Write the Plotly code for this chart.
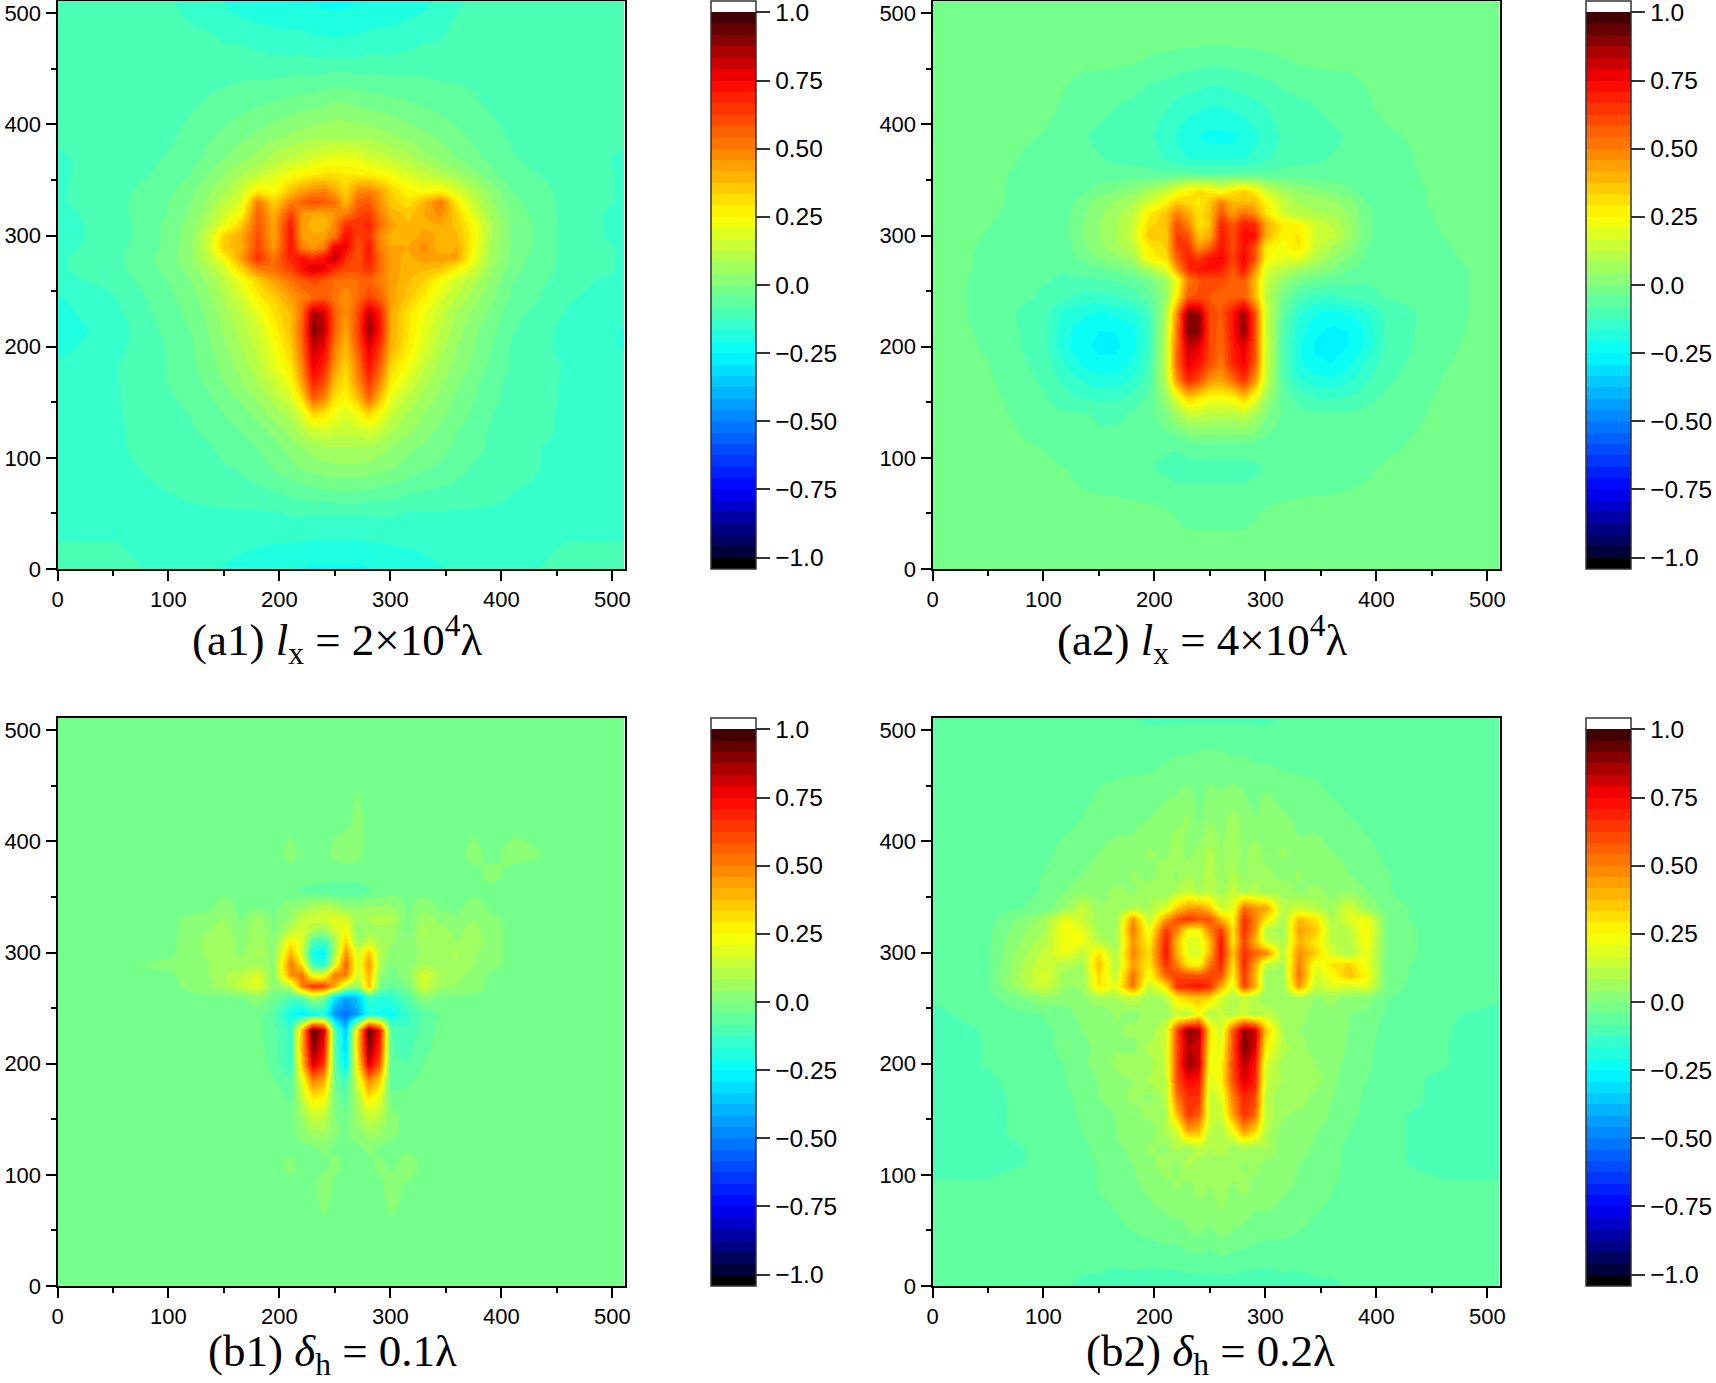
import plotly.graph_objects as go

# Non-uniform sample positions of the hand-read grids (pixel index units)
x_pos = [0,50,100,120,135,150,165,180,195,210,220,230,240,250,260,270,280,290,300,315,330,345,360,375,390,410,460,511]
y_pos = [511,470,420,390,370,355,340,330,320,310,300,290,280,270,260,245,230,215,200,185,170,155,140,125,110,90,50,0]

cbar_ticks = [-100,-75,-50,-25,0,25,50,75,100]
cbar_labels = ["\u22121.0","\u22120.75","\u22120.50","\u22120.25","0.0","0.25","0.50","0.75","1.0"]
axis_ticks = [0,100,200,300,400,500]

# values, in hundredths
a1 = [
[-11,-11,-12,-14,-15,-17,-19,-20,-20,-21,-21,-21,-22,-22,-22,-21,-21,-20,-20,-19,-18,-15,-13,-12,-12,-11,-10,-10],
[-10,-10,-11,-11,-11,-12,-12,-13,-14,-14,-14,-15,-15,-15,-15,-15,-14,-14,-14,-13,-12,-12,-11,-10,-10,-10,-9,-9],
[-12,-11,-10,-9,-8,-7,-6,-5,-4,-3,-2,-2,-1,0,0,-1,-2,-2,-3,-4,-5,-6,-7,-8,-9,-10,-11,-12],
[-12,-11,-9,-7,-5,-3,-1,1,3,5,6,7,8,8,8,8,7,6,5,3,1,-1,-3,-5,-7,-9,-11,-12],
[-13,-11,-8,-6,-3,0,3,6,10,13,15,17,20,21,21,20,17,15,13,10,6,3,0,-3,-5,-8,-11,-13],
[-13,-11,-7,-4,0,4,8,13,18,23,26,28,30,30,29,28,27,25,22,18,14,10,6,2,-3,-7,-10,-13],
[-13,-10,-5,-1,3,8,15,28,24,38,44,48,50,42,34,48,50,44,34,26,24,26,18,10,3,-4,-10,-13],
[-13,-10,-4,0,5,12,18,52,34,50,56,60,58,54,38,56,58,46,36,30,40,52,28,14,5,-3,-10,-13],
[-14,-10,-4,1,7,16,24,56,40,62,46,42,42,46,50,60,64,50,40,36,42,48,34,18,7,-2,-10,-14],
[-14,-11,-3,2,10,20,34,58,42,70,44,40,38,48,66,66,68,54,44,38,40,42,36,24,9,-1,-10,-14],
[-14,-11,-3,3,14,34,42,60,42,72,44,42,44,52,74,62,66,48,40,38,44,40,38,26,9,-1,-10,-14],
[-14,-10,-3,4,14,36,40,62,44,72,50,44,50,78,76,58,72,50,42,42,48,38,42,24,8,-1,-10,-13],
[-13,-10,-2,4,12,24,44,66,52,70,72,68,74,84,66,58,70,54,44,40,44,44,42,22,7,-2,-10,-13],
[-13,-10,-3,2,8,16,32,50,54,62,72,82,76,66,60,60,66,54,44,40,38,36,26,16,5,-3,-10,-13],
[-14,-11,-4,0,5,12,22,34,44,52,58,60,58,54,52,54,56,50,44,38,34,24,16,10,3,-4,-11,-14],
[-17,-13,-5,-2,3,9,16,27,34,44,50,54,58,52,46,54,62,56,44,36,28,18,12,6,1,-5,-12,-15],
[-18,-14,-6,-3,1,6,12,20,30,38,54,86,82,56,46,60,84,70,42,30,22,14,8,3,-1,-7,-13,-16],
[-19,-15,-7,-4,0,5,10,16,26,38,56,90,84,56,42,62,88,72,42,30,20,12,6,1,-3,-8,-14,-17],
[-18,-14,-8,-5,-1,3,8,14,22,34,54,82,76,50,38,58,78,64,40,28,18,10,4,0,-4,-9,-14,-17],
[-16,-13,-8,-5,-2,2,6,12,20,30,50,78,70,46,34,52,74,58,34,24,14,7,3,-1,-5,-9,-13,-15],
[-15,-13,-8,-6,-3,0,4,9,15,24,44,70,62,38,30,48,66,50,28,18,10,5,1,-3,-6,-10,-13,-15],
[-14,-13,-9,-7,-5,-2,1,5,10,18,32,58,50,30,26,38,56,38,20,12,7,3,-1,-4,-7,-10,-13,-14],
[-14,-13,-10,-8,-6,-4,-2,2,6,10,18,34,30,22,18,24,34,24,14,8,4,1,-2,-5,-8,-11,-13,-14],
[-14,-13,-11,-9,-7,-6,-4,-2,2,6,11,16,17,15,14,15,17,14,9,5,2,-1,-4,-6,-9,-11,-13,-14],
[-14,-13,-11,-10,-9,-7,-6,-4,-2,2,4,6,8,8,8,8,8,6,4,1,-1,-3,-5,-7,-9,-12,-13,-14],
[-14,-13,-12,-11,-10,-9,-8,-6,-4,-2,0,1,2,3,3,3,2,1,0,-2,-4,-5,-7,-9,-10,-12,-13,-14],
[-13,-13,-13,-13,-13,-13,-13,-13,-13,-12,-12,-12,-12,-12,-12,-12,-12,-12,-12,-13,-13,-13,-13,-13,-13,-13,-13,-13],
[-12,-12,-13,-14,-15,-17,-18,-19,-20,-21,-21,-22,-22,-22,-22,-22,-21,-21,-20,-19,-18,-17,-15,-14,-14,-13,-12,-12],
]

a2 = [
[-2,-2,-2,-2,-2,-2,-2,-2,-2,-2,-2,-2,-2,-2,-2,-2,-2,-2,-2,-2,-2,-2,-2,-2,-2,-2,-2,-2],
[-2,-2,-2,-2,-2,-2,-2,-2,-3,-3.5,-4,-4,-4.2,-4.3,-4.3,-4.2,-4,-4,-3.5,-3,-2,-2,-2,-2,-2,-2,-2,-2],
[-2,-2,-2,-5,-7,-7,-8,-9,-11,-12,-13,-14,-15,-16,-16,-15,-14,-13,-12,-10,-9,-8,-7,-7,-5,-2,-2,-2],
[-2,-2,-4.5,-7,-8,-9,-10,-11,-12,-14,-17,-20,-21,-22,-22,-22,-20,-18,-15,-12,-11,-10,-9,-8,-8,-5,-2,-2],
[-2,-2,-6,-7,-8,-8,-9,-10,-11,-13,-15,-17,-18,-18,-18,-18,-17,-15,-13,-11,-10,-9,-8,-8,-7,-6,-2.2,-2],
[-2,-2.5,-7,-7,-7,-7,-7,-6,-6,-7,-7,-7,-7,-7,-7,-7,-7,-7,-7,-6,-6,-7,-7,-7,-7,-6,-2.5,-2],
[-2,-3,-7,-7,-5,-2,0,3,8,14,22,28,30,28,22,30,34,28,16,8,4,2,0,-3,-6,-7,-3,-2],
[-2,-3,-7,-6,-2,2,5,8,16,26,36,32,28,36,50,38,38,38,26,14,8,7,5,2,-4,-7,-3,-2],
[-2,-3.5,-7,-5,-1,3,7,12,28,36,50,42,30,38,58,44,54,46,30,16,10,9,8,4,-3,-7,-3.5,-2],
[-2,-4,-7,-5,0,4,8,14,32,36,60,50,30,36,68,58,70,68,42,28,26,16,12,6,-3,-7,-3.8,-2],
[-2,-4.5,-7,-5,0,4,8,15,36,34,64,60,36,42,70,60,74,72,40,26,30,16,14,6,-3,-7,-4.2,-2],
[-2,-4.8,-7,-6,-1,3,7,12,28,34,62,66,46,56,72,60,72,60,28,22,30,14,8,3,-4,-7,-4.6,-2],
[-2,-5,-7,-6,-3,0,3,6,26,30,56,70,64,72,76,62,76,60,26,20,20,10,4,0,-5,-7,-5,-2],
[-2,-5,-8,-8,-7,-5,-3,0,8,18,44,66,72,72,70,58,72,48,18,12,6,3,0,-4,-6,-7,-6,-2],
[-2,-5.5,-8,-9,-9,-9,-8,-6,-2,6,22,50,58,60,60,56,58,38,14,4,-2,-4,-6,-7,-8,-7,-6,-2],
[-2,-5.5,-9,-12,-14,-14,-13,-11,-6,4,28,58,60,58,56,56,58,40,12,-2,-10,-14,-14,-12,-10,-8,-6,-2],
[-2,-5.5,-11,-18,-20,-22,-20,-18,-12,8,48,90,88,60,58,72,88,60,16,-6,-16,-21,-22,-21,-18,-11,-6,-2],
[-2,-5,-11,-20,-23,-25,-25,-22,-14,10,52,92,90,62,56,72,90,62,16,-8,-19,-24,-26,-25,-20,-11,-5.5,-2],
[-2,-4.6,-11,-20,-24,-26,-26,-22,-14,12,54,82,78,62,54,70,78,60,16,-9,-20,-26,-27,-25,-20,-11,-5,-2],
[-2,-4,-10,-17,-22,-24,-24,-20,-12,12,56,78,72,60,52,68,76,58,16,-9,-20,-24,-25,-22,-16,-10,-4.5,-2],
[-2,-3.5,-9,-14,-17,-19,-19,-16,-10,10,46,68,60,46,42,54,66,46,14,-8,-16,-19,-20,-17,-13,-9,-4,-2],
[-2,-3,-8,-11,-13,-14,-14,-11,-7,4,20,36,30,24,24,26,36,22,6,-6,-10,-13,-13,-12,-10,-7,-3.5,-2],
[-2,-2.5,-7,-8,-8,-9,-9,-8,-6,0,7,14,14,12,12,12,14,8,1,-5,-7,-8,-8,-8,-7,-7,-3,-2],
[-2,-2,-6,-7,-7,-8,-8,-8,-7,-4,-2,2,3,3,3,3,3,1,-3,-6,-7,-7,-7,-7,-7,-6,-2.5,-2],
[-2,-2,-4.5,-7,-7,-7,-8,-8,-8,-8,-8,-7,-6,-6,-6,-6,-6,-7,-8,-8,-8,-7,-7,-7,-7,-5,-2,-2],
[-2,-2,-2.5,-4,-6,-7,-7,-8,-8,-9,-10,-10,-10,-10,-10,-10,-10,-9,-8,-8,-7,-7,-7,-6,-5,-3,-2,-2],
[-2,-2,-2,-2,-2,-2,-2.2,-2.5,-3,-3.5,-4.5,-5,-5,-5,-5,-5,-5,-4.5,-3.5,-2.8,-2.5,-2.2,-2,-2,-2,-2,-2,-2],
[-2,-2,-2,-2,-2,-2,-2,-2,-2,-2,-2,-2,-2,-2,-2,-2,-2,-2,-2,-2,-2,-2,-2,-2,-2,-2,-2,-2],
]

b1 = [
[-1,-1,-1,-1,-1,-1,-1,-1,-1,-1,-1,-1,-1,-1,-1,-1,-1,-1,-1,-1,-1,-1,-1,-1,-1,-1,-1,-1],
[-1,-1,-1,-1,-1,-1,-1,-1,-1,-1,-1,-1,-1,-1,-1,-1,-1,-1,-1,-1,-1,-1,-1,-1,-1,-1,-1,-1],
[-1,-1,-1,-1,-1,-1,-1,-1,-1,-1,-1,-1,-1,-1,-1,1,-1,-1,-1,-1,-1,-1,-1,-1,-1,-1,-1,-1],
[-1,-1,-1,-1,-1,-1,-1,-1,-1,1,-1,-1,-1,1,2,1,-1,-1,-1,-1,-1,-1,-1,1,-1,1,-1,-1],
[-1,-1,-1,-1,-1,-1,-1,-1,-1,-1,-2,-2,-2,-2,-2,-2,-2,-2,-1,-1,-1,-1,-1,-1,1,-1,-1,-1],
[-1,-1,-1,-1,-1,-1,-1,-1,-2,-3,-5,-6,-7,-8,-8,-7,-5,-3,-2,-1,-1,-1,-1,-1,-1,-1,-1,-1],
[-1,-1,-1,-1,-1,2,-1,-1,-1,3,6,10,12,10,5,4,6,5,6,-1,3,-1,-1,2,-1,-1,-1,-1],
[-1,-1,-1,1,2,5,-1,7,-1,5,14,15,16,20,18,5,9,11,10,-1,8,3,1,4,1,-1,-1,-1],
[-1,-1,-1,1,4,7,1,8,-1,12,18,8,6,16,24,3,6,6,6,-1,9,6,3,6,1,-1,-1,-1],
[-1,-1,-1,2,6,8,1,8,1,26,18,-10,-14,6,34,4,14,8,5,1,8,8,4,8,1,-1,-1,-1],
[-1,-1,-1,2,5,7,3,9,2,40,16,-22,-26,8,46,16,36,10,2,1,6,7,9,5,1,-1,-1,-1],
[-1,-1,1,3,4,6,6,8,3,52,30,-14,-18,18,56,18,46,8,0,2,8,6,8,4,1,-1,-1,-1],
[-1,-1,-1,2,4,8,12,18,2,46,54,20,22,52,50,14,40,4,-2,3,18,8,5,3,-1,-1,-1,-1],
[-1,-1,-1,1,3,7,14,20,1,12,50,66,62,42,12,4,38,-2,-6,-1,16,5,4,2,-1,-1,-1,-1],
[-1,-1,-1,-1,-1,-1,-1,3,-2,-10,-8,8,0,-30,-42,-36,-14,-18,-16,-8,3,-1,-1,-1,-1,-1,-1,-1],
[-1,-1,-1,-1,-1,-1,-1,-3,-8,-22,-28,-22,-20,-46,-54,-42,-20,-22,-24,-14,-8,-4,-1,-1,-1,-1,-1,-1],
[-1,-1,-1,-1,-1,-1,-1,-3,-7,-14,38,96,80,-8,-36,34,96,72,-8,-12,-6,-3,-1,-1,-1,-1,-1,-1],
[-1,-1,-1,-1,-1,-1,-1,-2,-7,-14,40,90,74,-8,-32,36,90,68,-8,-10,-5,-3,-1,-1,-1,-1,-1,-1],
[-1,-1,-1,-1,-1,-1,-1,-2,-6,-14,34,80,64,-6,-28,30,80,58,-8,-8,-4,-2,-1,-1,-1,-1,-1,-1],
[-1,-1,-1,-1,-1,-1,-1,-1,-4,-8,20,50,42,-4,-12,18,50,34,-6,-5,-2,-1,-1,-1,-1,-1,-1,-1],
[-1,-1,-1,-1,-1,-1,-1,-1,-2,-5,12,30,26,-2,-7,10,30,20,-3,-3,-1,-1,-1,-1,-1,-1,-1,-1],
[-1,-1,-1,-1,-1,-1,-1,-1,-1,-2,6,16,14,0,-3,6,16,12,1,-1,-1,-1,-1,-1,-1,-1,-1,-1],
[-1,-1,-1,-1,-1,-1,-1,-1,-1,-1,2,8,8,1,-1,3,8,6,1,-1,-1,-1,-1,-1,-1,-1,-1,-1],
[-1,-1,-1,-1,-1,-1,-1,-1,-1,-1,-1,-1,1,-1,-1,-1,1,-1,-1,-1,-1,-1,-1,-1,-1,-1,-1,-1],
[-1,-1,-1,-1,-1,-1,-1,-1,-1,1,-1,-1,-1,1,-1,-1,-1,1,-1,2,-1,-1,-1,-1,-1,-1,-1,-1],
[-1,-1,-1,-1,-1,-1,-1,-1,-1,-1,-1,-1,2,-1,-1,-1,-1,-1,2,-1,-1,-1,-1,-1,-1,-1,-1,-1],
[-1,-1,-1,-1,-1,-1,-1,-1,-1,-1,-1,-1,-1,-1,-1,-1,-1,-1,-1,-1,-1,-1,-1,-1,-1,-1,-1,-1],
[-1,-1,-1,-1,-1,-1,-1,-1,-1,-1,-1,-1,-1,-1,-1,-1,-1,-1,-1,-1,-1,-1,-1,-1,-1,-1,-1,-1],
]

b2 = [
[-7,-7,-7,-8,-8,-8,-8,-8,-9,-9,-9,-9,-9,-9,-9,-9,-9,-9,-9,-8,-8,-8,-8,-8,-7,-7,-6,-6],
[-7,-7,-6,-6,-6,-5,-5,-5,-5,-4,-3,-3,-2,-2,-2,-3,-3,-4,-4,-5,-5,-5,-6,-6,-6,-7,-7,-7],
[-8,-7,-6,-5,-4,-3,-2,-1,0,2,3,5,-1,4,2,6,3,0,4,1,-1,-2,-3,-4,-5,-6,-7,-8],
[-8,-6,-5,-3,-2,0,2,1,5,3,8,2,6,10,4,8,3,7,2,5,1,3,0,-1,-3,-5,-7,-8],
[-8,-6,-4,-2,0,3,1,5,2,7,3,9,5,12,4,10,3,8,6,2,5,1,3,0,-2,-4,-7,-8],
[-8,-6,-4,0,3,2,6,3,8,4,10,14,8,12,6,14,8,10,5,7,3,6,2,4,0,-4,-7,-8],
[-8,-6,-3,5,14,5,4,10,8,18,35,45,46,36,16,20,55,46,44,10,16,10,6,18,5,-3,-6,-8],
[-8,-6,6,22,14,6,5,46,12,45,60,65,60,60,40,24,66,50,30,8,38,30,8,18,24,-3,-6,-8],
[-8,-5,8,25,20,7,6,52,20,65,50,25,25,50,65,30,66,48,10,6,44,36,10,12,26,-2,-6,-8],
[-8,-5,10,24,22,10,6,46,26,70,38,18,18,38,72,28,62,40,16,8,40,28,12,10,24,-2,-6,-8],
[-8,-5,14,22,12,30,8,50,30,72,40,20,16,40,72,36,66,56,50,10,48,34,16,8,22,-2,-6,-8],
[-8,-5,16,10,8,38,10,44,28,66,50,28,24,52,68,30,68,44,12,8,50,20,30,34,22,-3,-6,-8],
[-8,-5,18,6,6,32,12,54,22,56,62,60,58,62,60,26,64,40,6,6,54,16,24,38,26,-3,-6,-8],
[-8,-5,16,4,5,30,20,52,12,30,66,68,72,66,42,18,62,42,5,5,46,12,20,16,20,-3,-7,-8],
[-8,-6,4,2,3,8,8,14,6,10,28,36,38,34,16,8,14,10,4,6,8,4,5,3,2,-4,-7,-8],
[-9,-7,-4,-2,2,0,5,2,8,4,14,10,24,8,14,10,16,8,14,5,6,2,4,0,-1,-5,-8,-9],
[-10,-8,-5,-3,0,2,3,6,4,16,62,90,86,30,14,58,88,82,36,8,4,3,1,0,-2,-6,-8,-10],
[-11,-8,-5,-3,-1,1,4,2,10,14,60,84,80,26,20,60,92,80,26,10,6,2,3,-1,-3,-6,-8,-11],
[-11,-8,-6,-4,-1,2,5,8,6,14,62,88,82,22,24,62,84,72,18,6,8,4,1,-1,-3,-7,-8,-11],
[-11,-9,-6,-4,-2,0,3,4,9,12,60,74,72,18,26,60,80,70,14,8,5,6,1,-2,-4,-7,-9,-11],
[-10,-9,-7,-5,-3,0,1,6,3,10,52,66,66,14,18,50,68,62,12,4,7,2,0,-2,-5,-7,-9,-10],
[-10,-9,-7,-6,-3,-1,0,2,6,8,38,64,58,16,14,44,66,56,12,5,3,3,-1,-3,-5,-8,-9,-10],
[-10,-9,-7,-6,-4,-2,0,4,1,10,16,44,40,12,8,24,46,34,10,2,4,0,-2,-4,-6,-8,-9,-10],
[-9,-9,-8,-7,-5,-3,-1,1,5,3,10,6,14,8,12,6,10,7,9,1,2,-1,-3,-5,-6,-8,-9,-9],
[-9,-9,-8,-6,-5,-4,-2,0,3,6,3,10,5,8,4,9,3,6,2,4,0,-2,-3,-5,-7,-8,-9,-9],
[-8,-8,-7,-6,-5,-4,-3,-1,1,3,5,2,6,4,7,3,6,2,4,1,-1,-3,-4,-5,-6,-7,-8,-8],
[-7,-7,-7,-7,-6,-6,-5,-4,-3,-2,-2,0,1,-1,2,0,-1,-2,-3,-3,-4,-5,-5,-6,-6,-7,-7,-7],
[-6,-6,-7,-8,-9,-9,-10,-10,-11,-11,-11,-11,-11,-11,-11,-11,-11,-11,-11,-10,-10,-9,-9,-8,-7,-7,-6,-6],
]

W, H = 1716, 1383
BAND = 100 / 24
ZMAX = 25 * BAND

stops = [(-100,(0,0,40)),(-75,(0,0,255)),(-25,(0,255,255)),(0,(128,255,128)),
         (25,(255,255,0)),(75,(255,0,0)),(100,(50,0,0))]

def band_colour(v):
    if v < -100: return "rgb(0,0,0)"
    if v > 100: return "rgb(255,255,255)"
    for (a, ca), (b, cb) in zip(stops, stops[1:]):
        if a <= v <= b:
            t = (v - a) / (b - a)
            return "rgb(%d,%d,%d)" % tuple(round(p + (q - p) * t) for p, q in zip(ca, cb))

scale = []
for i in range(50):
    lo, hi = -ZMAX + i * BAND, -ZMAX + (i + 1) * BAND
    col = band_colour((lo + hi) / 2)
    scale += [[i / 50, col], [(i + 1) / 50, col]]

panels = [
    (a1, 57.5, 1, 711, "(a1) <i>l</i><sub>x</sub> = 2×10<sup>4</sup>λ", 337, 640),
    (a2, 932.5, 1, 1586, "(a2) <i>l</i><sub>x</sub> = 4×10<sup>4</sup>λ", 1202, 640),
    (b1, 57.5, 718, 711, "(b1) <i>δ</i><sub>h</sub> = 0.1λ", 332, 1354),
    (b2, 932.5, 718, 1586, "(b2) <i>δ</i><sub>h</sub> = 0.2λ", 1210, 1354),
]
SIZE_X, SIZE_Y = 567, 568
axisfont = dict(family="Liberation Sans", size=22, color="black")
barfont = dict(family="Liberation Sans", size=24.5, color="black")

fig = go.Figure()
layout = dict(width=W, height=H, autosize=False, paper_bgcolor="white", plot_bgcolor="white",
              margin=dict(l=0, r=0, t=0, b=0, autoexpand=False), showlegend=False, annotations=[])
for i, (z, left, top, cb_left, title, tx, ty) in enumerate(panels, start=1):
    assert len(z) == len(y_pos) and all(len(r) == len(x_pos) for r in z)
    fig.add_trace(go.Heatmap(
        x=x_pos, y=y_pos, z=z, xaxis=f"x{i}", yaxis=f"y{i}", zsmooth="best",
        zmin=-ZMAX, zmax=ZMAX, colorscale=scale, hoverinfo="skip",
        colorbar=dict(x=cb_left / W, xanchor="left", xpad=0, y=1 - top / H, yanchor="top", ypad=0,
                      lenmode="pixels", len=SIZE_Y, thicknessmode="pixels", thickness=45,
                      tickmode="array", tickvals=cbar_ticks, ticktext=cbar_labels,
                      ticks="outside", ticklen=14, tickwidth=1.5, tickcolor="#333",
                      ticklabeloverflow="allow",
                      outlinecolor="#333", outlinewidth=1.5, tickfont=barfont),
    ))
    common = dict(range=[0, 511], tickmode="array", tickvals=axis_ticks, ticks="outside", ticklen=10,
                  tickwidth=1.5, tickcolor="black", showline=True, mirror=True, linecolor="black",
                  linewidth=2, showgrid=False, zeroline=False, tickfont=axisfont,
                  minor=dict(tickmode="array", tickvals=[50,150,250,350,450], ticks="outside", ticklen=5,
                             tickwidth=1.5, tickcolor="black", showgrid=False))
    layout[f"xaxis{i}"] = dict(domain=[left / W, (left + SIZE_X) / W], anchor=f"y{i}", **common)
    layout[f"yaxis{i}"] = dict(domain=[1 - (top + SIZE_Y) / H, 1 - top / H], anchor=f"x{i}", **common)
    layout["annotations"].append(dict(
        text=title, xref="paper", yref="paper", x=tx / W, y=1 - ty / H, xanchor="center", yanchor="middle",
        showarrow=False, font=dict(family="Liberation Serif", size=45, color="black")))
fig.update_layout(**layout)
fig.write_html("out.html", config=dict(displayModeBar=False), post_script="document.body.style.margin='0';")
